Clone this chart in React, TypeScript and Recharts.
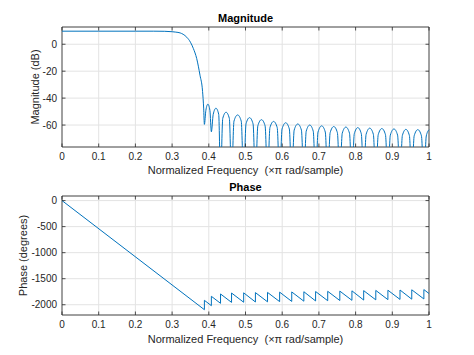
import { CartesianGrid, Line, LineChart, ReferenceArea, XAxis, YAxis } from "recharts";

// frequency axis (x pi rad/sample)
const freqTicks = [0, 0.1, 0.2, 0.3, 0.4, 0.5, 0.6, 0.7, 0.8, 0.9, 1];
const magTicks = [-60, -40, -20, 0];
const phaseTicks = [-2000, -1500, -1000, -500, 0];

const magDomain = [-76.3, 12.8];
const phaseDomain = [-2197, 88];

// magnitude response (dB); nulls below the axis are clipped
const magFreq = [
  0, 0.1, 0.2, 0.25, 0.28, 0.3, 0.31, 0.322, 0.33, 0.34, 0.35, 0.358, 0.367, 0.376, 0.383, 0.386, 0.388,
  0.392, 0.3975, 0.403, 0.407,
  0.412, 0.4195, 0.427, 0.432,
  0.438, 0.447, 0.456, 0.462,
  0.4686, 0.4785, 0.4884, 0.495,
  0.5014, 0.511, 0.5206, 0.527,
  0.5336, 0.5435, 0.5534, 0.56,
  0.5666, 0.5765, 0.5864, 0.593,
  0.5996, 0.6095, 0.6194, 0.626,
  0.6326, 0.6425, 0.6524, 0.659,
  0.6654, 0.675, 0.6846, 0.691,
  0.6976, 0.7075, 0.7174, 0.724,
  0.7306, 0.7405, 0.7504, 0.757,
  0.7636, 0.7735, 0.7834, 0.79,
  0.7964, 0.806, 0.8156, 0.822,
  0.8286, 0.8385, 0.8484, 0.855,
  0.8616, 0.8715, 0.8814, 0.888,
  0.8946, 0.9045, 0.9144, 0.921,
  0.9274, 0.937, 0.9466, 0.953,
  0.9596, 0.9695, 0.9794, 0.986,
  0.9926, 1,
];
const magDb = [
  9.7, 9.7, 9.7, 9.7, 9.6, 9.3, 9.0, 8.4, 7.4, 5.2, 1.5, -3.2, -10.6, -23, -35, -47.4, -59.5,
  -49.1, -44.5, -49.1, -65,
  -52.1, -47.5, -52.1, -100,
  -55.1, -50.5, -55.1, -100,
  -57.1, -52.5, -57.1, -100,
  -59.1, -54.5, -59.1, -100,
  -60.6, -56, -60.6, -100,
  -61.9, -57.3, -61.9, -100,
  -62.9, -58.3, -62.9, -100,
  -63.8, -59.2, -63.8, -100,
  -64.6, -60, -64.6, -100,
  -65.2, -60.6, -65.2, -100,
  -65.7, -61.1, -65.7, -100,
  -66.1, -61.5, -66.1, -100,
  -66.5, -61.9, -66.5, -100,
  -66.9, -62.3, -66.9, -100,
  -67.2, -62.6, -67.2, -100,
  -67.5, -62.9, -67.5, -100,
  -67.8, -63.2, -67.8, -100,
  -68, -63.4, -68, -100,
  -68.1, -63.5,
];

// unwrapped phase (degrees), jumps of ~180 at every stopband null
const phaseFreq = [
  0, 0.388, 0.388, 0.407, 0.407, 0.432, 0.432, 0.462, 0.462, 0.495, 0.495, 0.527, 0.527,
  0.56, 0.56, 0.593, 0.593, 0.626, 0.626, 0.659, 0.659, 0.691, 0.691, 0.724, 0.724,
  0.757, 0.757, 0.79, 0.79, 0.822, 0.822, 0.855, 0.855, 0.888, 0.888, 0.921, 0.921,
  0.953, 0.953, 0.986, 0.986, 1,
];
const phaseDeg = [
  0, -2095, -1915, -2018, -1838, -1973, -1793, -1955, -1775, -1952, -1771, -1947, -1767,
  -1944, -1763, -1940, -1758, -1936, -1754, -1932, -1750, -1927, -1746, -1923, -1742,
  -1919, -1738, -1915, -1733, -1910, -1729, -1906, -1725, -1902, -1721, -1898, -1717,
  -1893, -1713, -1889, -1709, -1785,
];

const magData = magFreq.map((f, i) => ({ f, v: magDb[i] }));
const phaseData = phaseFreq.map((f, i) => ({ f, v: phaseDeg[i] }));

const AXIS = "#262626";
const GRID = "#e3e3e3";
const BLUE = "#0072BD";
const FONT = "'Liberation Sans', Arial, Helvetica, sans-serif";
const W = 474;
const H = 180;
const LEFT = 62;
const RIGHT = 45;

const xTick = (plotTop: number) => (props: any) => {
  const { x, y, payload } = props;
  return (
    <g>
      <line x1={x} y1={y} x2={x} y2={y - 3.5} stroke={AXIS} strokeWidth={0.8} />
      <line x1={x} y1={plotTop} x2={x} y2={plotTop + 3.5} stroke={AXIS} strokeWidth={0.8} />
      <text x={x} y={y + 13} textAnchor="middle" fill={AXIS} fontSize={10} fontFamily={FONT}>
        {payload.value}
      </text>
    </g>
  );
};

const yTick = (props: any) => {
  const { x, y, payload } = props;
  const plotRight = W - RIGHT;
  return (
    <g>
      <line x1={x} y1={y} x2={x + 3.5} y2={y} stroke={AXIS} strokeWidth={0.8} />
      <line x1={plotRight} y1={y} x2={plotRight - 3.5} y2={y} stroke={AXIS} strokeWidth={0.8} />
      <text x={x - 5} y={y} dy="0.35em" textAnchor="end" fill={AXIS} fontSize={10} fontFamily={FONT}>
        {payload.value}
      </text>
    </g>
  );
};

type PanelProps = {
  data: { f: number; v: number }[];
  domain: number[];
  ticks: number[];
  top: number;
  plotTop: number;
  plotBottom: number;
  title: string;
  titleY: number;
  xLabelY: number;
  yLabel: string;
  yLabelX: number;
  clip: boolean;
  curve: "monotone" | "linear";
};

const Panel = (p: PanelProps) => {
  const midX = LEFT + (W - LEFT - RIGHT) / 2;
  const midY = (p.plotTop + p.plotBottom) / 2;
  return (
    <div style={{ position: "absolute", left: 0, top: p.top }}>
      <LineChart
        width={W}
        height={H}
        data={p.data}
        margin={{ top: p.plotTop, right: RIGHT, left: 0, bottom: 0 }}
      >
        <CartesianGrid stroke={GRID} strokeWidth={1} />
        <XAxis
          dataKey="f"
          type="number"
          domain={[0, 1]}
          ticks={freqTicks}
          interval={0}
          height={H - p.plotBottom}
          axisLine={false}
          tickLine={false}
          tickSize={0}
          tickMargin={0}
          tick={xTick(p.plotTop)}
          label={() => (
            <g>
              <text x={midX} y={p.xLabelY} textAnchor="middle" fill={AXIS} fontSize={11} fontFamily={FONT}>
                {"Normalized Frequency \u00a0(\u00d7\u03c0 rad/sample)"}
              </text>
              <text
                x={midX}
                y={p.titleY}
                textAnchor="middle"
                fill="#000"
                fontSize={11}
                fontWeight="bold"
                fontFamily={FONT}
              >
                {p.title}
              </text>
            </g>
          )}
        />
        <YAxis
          type="number"
          domain={p.domain}
          ticks={p.ticks}
          interval={0}
          width={LEFT}
          allowDataOverflow={p.clip}
          axisLine={false}
          tickLine={false}
          tickSize={0}
          tickMargin={0}
          tick={yTick}
          label={() => (
            <text
              transform={`translate(${p.yLabelX},${midY}) rotate(-90)`}
              textAnchor="middle"
              fill={AXIS}
              fontSize={11}
              fontFamily={FONT}
            >
              {p.yLabel}
            </text>
          )}
        />
        <ReferenceArea
          x1={0}
          x2={1}
          y1={p.domain[0]}
          y2={p.domain[1]}
          fill="none"
          fillOpacity={0}
          stroke={AXIS}
          strokeWidth={0.8}
          ifOverflow="visible"
        />
        <Line
          type={p.curve}
          dataKey="v"
          stroke={BLUE}
          strokeWidth={1}
          dot={false}
          activeDot={false}
          isAnimationActive={false}
        />
      </LineChart>
    </div>
  );
};

const App = () => {
  return (
    <div
      style={{
        position: "absolute",
        left: 0,
        top: 0,
        width: W,
        height: 355,
        background: "#fff",
        overflow: "hidden",
      }}
    >
      <Panel
        data={magData}
        domain={magDomain}
        ticks={magTicks}
        top={0}
        plotTop={27}
        plotBottom={147}
        title="Magnitude"
        titleY={22}
        xLabelY={173.5}
        yLabel="Magnitude (dB)"
        yLabelX={39}
        clip={true}
        curve="monotone"
      />
      <Panel
        data={phaseData}
        domain={phaseDomain}
        ticks={phaseTicks}
        top={175}
        plotTop={21}
        plotBottom={140}
        title="Phase"
        titleY={16}
        xLabelY={167.5}
        yLabel="Phase (degrees)"
        yLabelX={27}
        clip={false}
        curve="linear"
      />
    </div>
  );
};

export default App;
